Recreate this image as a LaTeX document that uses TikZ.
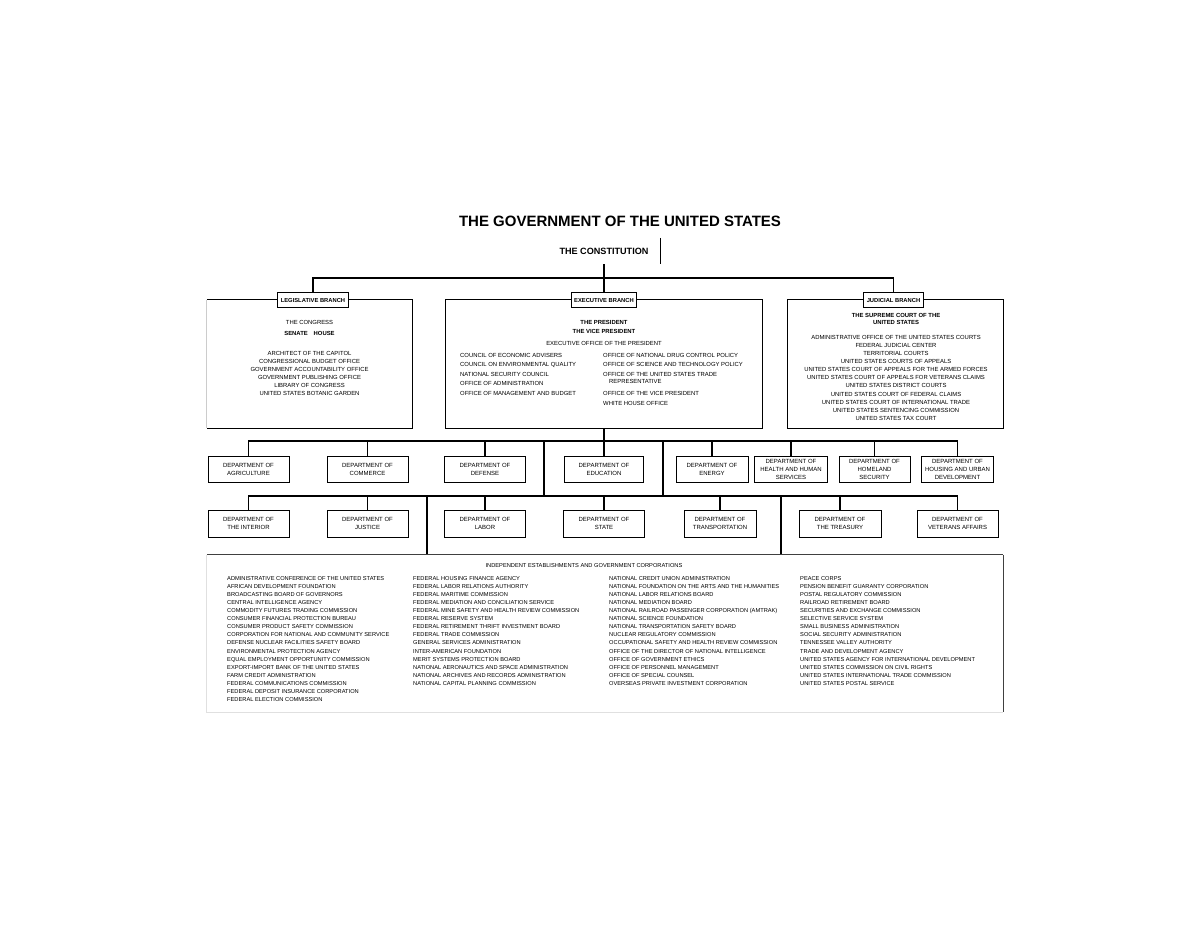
\documentclass[tikz,border=0pt]{standalone}
\usepackage{fontspec}
\setmainfont{Liberation Sans}
\usetikzlibrary{calc}
\newcommand{\boxfont}{\fontsize{5.9}{8}\selectfont}
\newcommand{\listfont}{\fontsize{5.7}{8.1}\selectfont}

\begin{document}
\begin{tikzpicture}[x=1pt,y=-1pt,
	deptbox/.style={draw,line width=0.9pt,minimum width=81pt,minimum height=26pt,inner sep=1pt,align=center,font=\fontsize{6.0}{8}\selectfont},
	branchlabel/.style={draw,fill=white,line width=0.8pt,minimum height=15pt,inner xsep=3pt,font=\fontsize{5.8}{7}\selectfont\bfseries},
	textblock/.style={inner sep=0pt,font=\boxfont},
	bar/.style={line width=1.8pt},
	edge/.style={line width=0.9pt}]
	\useasboundingbox (0,0) rectangle (1200,927);
	\node[font=\fontsize{15}{18}\selectfont\bfseries] (title) at (620,221) {THE GOVERNMENT OF THE UNITED STATES};
	\node[minimum width=112pt,minimum height=26pt,font=\fontsize{9.1}{11}\selectfont\bfseries] (constitution) at (604,251) {THE CONSTITUTION};
	\draw[edge] (constitution.north east) -- (constitution.south east);
	% the three branches
	\node[minimum width=205pt,minimum height=128pt] (leg) at (309.5,364) {};
	\node[minimum width=316pt,minimum height=128pt] (exec) at (604,364) {};
	\node[minimum width=215pt,minimum height=128pt] (jud) at (895.5,364) {};
	\draw[edge] (leg.north west) -- (leg.north east) -- (leg.south east) -- (leg.south west);
	\draw[edge,black!20] (leg.south west) -- (leg.north west);
	\draw[edge] (exec.north west) rectangle (exec.south east);
	\draw[edge] (jud.north west) rectangle (jud.south east);
	\node[branchlabel] (leglabel) at (313,300) {LEGISLATIVE BRANCH};
	\node[branchlabel] (execlabel) at (604,300) {EXECUTIVE BRANCH};
	\node[branchlabel] (judlabel) at (893.5,300) {JUDICIAL BRANCH};
	\coordinate (topbar) at (604,278);
	\draw[bar] (leglabel.north) -- (leglabel.north |- topbar) -- (judlabel.north |- topbar) -- (judlabel.north);
	\draw[bar] (constitution.south) -- (execlabel.north);
	% legislative
	\node[font=\boxfont] (congress) at (309.5,322) {THE CONGRESS};
	\node[font=\boxfont\bfseries] (houses) at (309.5,333) {SENATE\quad HOUSE};
	\node[textblock,align=center,anchor=north] (legagencies) at (309.5,351) {ARCHITECT OF THE CAPITOL\\CONGRESSIONAL BUDGET OFFICE\\GOVERNMENT ACCOUNTABILITY OFFICE\\GOVERNMENT PUBLISHING OFFICE\\LIBRARY OF CONGRESS\\UNITED STATES BOTANIC GARDEN};
	% executive
	\node[font=\boxfont\bfseries] (president) at (604,322) {THE PRESIDENT};
	\node[font=\boxfont\bfseries] (vicepres) at (604,331) {THE VICE PRESIDENT};
	\node[font=\boxfont] (eop) at (604,343) {EXECUTIVE OFFICE OF THE PRESIDENT};
	\node[textblock,font=\fontsize{5.9}{9.5}\selectfont,align=left,anchor=north west] (eopleft) at (460,353) {COUNCIL OF ECONOMIC ADVISERS\\COUNCIL ON ENVIRONMENTAL QUALITY\\NATIONAL SECURITY COUNCIL\\OFFICE OF ADMINISTRATION\\OFFICE OF MANAGEMENT AND BUDGET};
	\node[textblock,font=\fontsize{5.9}{9.5}\selectfont,align=left,anchor=north west] (eopright) at (603,353) {OFFICE OF NATIONAL DRUG CONTROL POLICY\\OFFICE OF SCIENCE AND TECHNOLOGY POLICY\\OFFICE OF THE UNITED STATES TRADE\\[-2pt]\hspace*{6pt}REPRESENTATIVE\\[2.5pt]OFFICE OF THE VICE PRESIDENT\\WHITE HOUSE OFFICE};
	% judicial
	\node[textblock,font=\fontsize{5.9}{7}\selectfont\bfseries,align=center,anchor=north] (supreme) at (896,313) {THE SUPREME COURT OF THE\\UNITED STATES};
	\node[textblock,font=\fontsize{5.9}{8.1}\selectfont,align=center,anchor=north] (courts) at (896,335) {ADMINISTRATIVE OFFICE OF THE UNITED STATES COURTS\\FEDERAL JUDICIAL CENTER\\TERRITORIAL COURTS\\UNITED STATES COURTS OF APPEALS\\UNITED STATES COURT OF APPEALS FOR THE ARMED FORCES\\UNITED STATES COURT OF APPEALS FOR VETERANS CLAIMS\\UNITED STATES DISTRICT COURTS\\UNITED STATES COURT OF FEDERAL CLAIMS\\UNITED STATES COURT OF INTERNATIONAL TRADE\\UNITED STATES SENTENCING COMMISSION\\UNITED STATES TAX COURT};
	% departments, first row
	\node[deptbox] (agri) at (248.5,469) {DEPARTMENT OF\\AGRICULTURE};
	\node[deptbox] (comm) at (367.5,469) {DEPARTMENT OF\\COMMERCE};
	\node[deptbox] (def) at (485,469) {DEPARTMENT OF\\DEFENSE};
	\node[deptbox,minimum width=79pt] (edu) at (604,469) {DEPARTMENT OF\\EDUCATION};
	\node[deptbox,minimum width=72pt] (energy) at (712,469) {DEPARTMENT OF\\ENERGY};
	\node[deptbox,minimum width=73pt] (hhs) at (791,469) {DEPARTMENT OF\\HEALTH AND HUMAN\\SERVICES};
	\node[deptbox,minimum width=71pt] (home) at (874.5,469) {DEPARTMENT OF\\HOMELAND\\SECURITY};
	\node[deptbox,minimum width=72pt] (hud) at (957.5,469) {DEPARTMENT OF\\HOUSING AND URBAN\\DEVELOPMENT};
	% departments, second row
	\node[deptbox,minimum height=27pt] (interior) at (248.5,523.5) {DEPARTMENT OF\\THE INTERIOR};
	\node[deptbox,minimum height=27pt] (justice) at (367.5,523.5) {DEPARTMENT OF\\JUSTICE};
	\node[deptbox,minimum height=27pt] (labor) at (485,523.5) {DEPARTMENT OF\\LABOR};
	\node[deptbox,minimum height=27pt] (state) at (604,523.5) {DEPARTMENT OF\\STATE};
	\node[deptbox,minimum height=27pt,minimum width=72pt] (transport) at (720,523.5) {DEPARTMENT OF\\TRANSPORTATION};
	\node[deptbox,minimum height=27pt,minimum width=82pt] (treasury) at (840,523.5) {DEPARTMENT OF\\THE TREASURY};
	\node[deptbox,minimum height=27pt] (veterans) at (957.5,523.5) {DEPARTMENT OF\\VETERANS AFFAIRS};
	\coordinate (row1) at (604,441);
	\coordinate (row2) at (604,496);
	\coordinate (link1) at (544,441);
	\coordinate (link2) at (663,441);
	\coordinate (link3) at (427,496);
	\coordinate (link4) at (781,496);
	\draw[bar] (exec.south) -- (edu.north);
	\draw[bar] (agri.north) -- (agri.north |- row1) -- (hud.north |- row1) -- (hud.north);
	\foreach \d in {comm,def,energy,hhs,home}
		\draw[bar] (\d.north) -- (\d.north |- row1);
	\draw[bar] (interior.north) -- (interior.north |- row2) -- (veterans.north |- row2) -- (veterans.north);
	\foreach \d in {justice,labor,state,transport,treasury}
		\draw[bar] (\d.north) -- (\d.north |- row2);
	\draw[bar] (link1) -- (link1 |- row2);
	\draw[bar] (link2) -- (link2 |- row2);
	% independent establishments
	\node[minimum width=796pt,minimum height=157pt] (indep) at (605,633.5) {};
	\draw[bar] (link3) -- (link3 |- indep.north);
	\draw[bar] (link4) -- (link4 |- indep.north);
	\draw[line width=1.3pt,black!75] (indep.north west) -- (indep.north east);
	\draw[edge,black!75] (indep.north east) -- (indep.south east);
	\draw[edge,black!12] (indep.north west) -- (indep.south west) -- (indep.south east);
	\node[font=\listfont] (indephead) at (584,566) {INDEPENDENT ESTABLISHMENTS AND GOVERNMENT CORPORATIONS};
	\node[textblock,font=\listfont,align=left,anchor=north west] (col1) at (227,576) {ADMINISTRATIVE CONFERENCE OF THE UNITED STATES\\AFRICAN DEVELOPMENT FOUNDATION\\BROADCASTING BOARD OF GOVERNORS\\CENTRAL INTELLIGENCE AGENCY\\COMMODITY FUTURES TRADING COMMISSION\\CONSUMER FINANCIAL PROTECTION BUREAU\\CONSUMER PRODUCT SAFETY COMMISSION\\CORPORATION FOR NATIONAL AND COMMUNITY SERVICE\\DEFENSE NUCLEAR FACILITIES SAFETY BOARD\\ENVIRONMENTAL PROTECTION AGENCY\\EQUAL EMPLOYMENT OPPORTUNITY COMMISSION\\EXPORT-IMPORT BANK OF THE UNITED STATES\\FARM CREDIT ADMINISTRATION\\FEDERAL COMMUNICATIONS COMMISSION\\FEDERAL DEPOSIT INSURANCE CORPORATION\\FEDERAL ELECTION COMMISSION};
	\node[textblock,font=\listfont,align=left,anchor=north west] (col2) at (413,576) {FEDERAL HOUSING FINANCE AGENCY\\FEDERAL LABOR RELATIONS AUTHORITY\\FEDERAL MARITIME COMMISSION\\FEDERAL MEDIATION AND CONCILIATION SERVICE\\FEDERAL MINE SAFETY AND HEALTH REVIEW COMMISSION\\FEDERAL RESERVE SYSTEM\\FEDERAL RETIREMENT THRIFT INVESTMENT BOARD\\FEDERAL TRADE COMMISSION\\GENERAL SERVICES ADMINISTRATION\\INTER-AMERICAN FOUNDATION\\MERIT SYSTEMS PROTECTION BOARD\\NATIONAL AERONAUTICS AND SPACE ADMINISTRATION\\NATIONAL ARCHIVES AND RECORDS ADMINISTRATION\\NATIONAL CAPITAL PLANNING COMMISSION};
	\node[textblock,font=\listfont,align=left,anchor=north west] (col3) at (609,576) {NATIONAL CREDIT UNION ADMINISTRATION\\NATIONAL FOUNDATION ON THE ARTS AND THE HUMANITIES\\NATIONAL LABOR RELATIONS BOARD\\NATIONAL MEDIATION BOARD\\NATIONAL RAILROAD PASSENGER CORPORATION (AMTRAK)\\NATIONAL SCIENCE FOUNDATION\\NATIONAL TRANSPORTATION SAFETY BOARD\\NUCLEAR REGULATORY COMMISSION\\OCCUPATIONAL SAFETY AND HEALTH REVIEW COMMISSION\\OFFICE OF THE DIRECTOR OF NATIONAL INTELLIGENCE\\OFFICE OF GOVERNMENT ETHICS\\OFFICE OF PERSONNEL MANAGEMENT\\OFFICE OF SPECIAL COUNSEL\\OVERSEAS PRIVATE INVESTMENT CORPORATION};
	\node[textblock,font=\listfont,align=left,anchor=north west] (col4) at (800,576) {PEACE CORPS\\PENSION BENEFIT GUARANTY CORPORATION\\POSTAL REGULATORY COMMISSION\\RAILROAD RETIREMENT BOARD\\SECURITIES AND EXCHANGE COMMISSION\\SELECTIVE SERVICE SYSTEM\\SMALL BUSINESS ADMINISTRATION\\SOCIAL SECURITY ADMINISTRATION\\TENNESSEE VALLEY AUTHORITY\\TRADE AND DEVELOPMENT AGENCY\\UNITED STATES AGENCY FOR INTERNATIONAL DEVELOPMENT\\UNITED STATES COMMISSION ON CIVIL RIGHTS\\UNITED STATES INTERNATIONAL TRADE COMMISSION\\UNITED STATES POSTAL SERVICE};
\end{tikzpicture}
\end{document}
